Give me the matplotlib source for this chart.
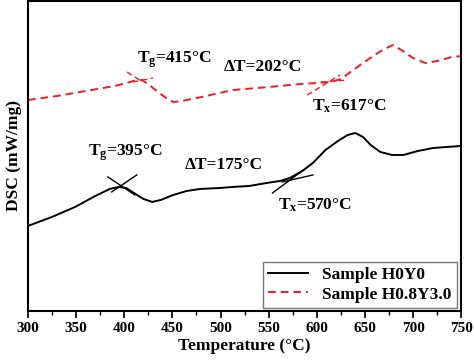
import matplotlib.pyplot as plt
from matplotlib.ticker import MultipleLocator, NullLocator

plt.rcParams['font.family'] = ['Liberation Serif', 'DejaVu Serif']
plt.rcParams['font.weight'] = 'bold'
plt.rcParams['mathtext.fontset'] = 'custom'
plt.rcParams['mathtext.rm'] = 'Liberation Serif:bold'
plt.rcParams['mathtext.it'] = 'Liberation Serif:bold'
plt.rcParams['mathtext.bf'] = 'Liberation Serif:bold'

# Sample H0Y0 (solid black)
temp_h0 = [300, 325, 349, 370, 385, 394, 402, 410, 420, 429, 438, 451, 465, 479, 500,
           513, 530, 548, 562, 572, 585, 596, 609, 622, 632, 640, 648, 656, 666, 678,
           690, 705, 721, 735, 750]
dsc_h0 = [85, 94, 104, 115, 122, 124, 123, 118, 112, 109, 111, 116, 120, 122, 123,
          124, 125, 128, 130, 133, 140, 148, 161, 170, 176, 178, 174, 166, 159, 156,
          156, 160, 163, 164, 165]

# Sample H0.8Y3.0 (dashed red)
temp_h08 = [300, 330, 360, 390, 406, 413, 418, 425, 435, 445, 451, 460, 480, 513, 550,
            583, 600, 614, 625, 635, 645, 660, 670, 679, 688, 700, 713, 725, 740, 750]
dsc_h08 = [211, 215, 220, 225, 229, 231, 231, 227, 219, 212, 209, 210, 214, 221, 224,
           227, 228, 229, 232, 239, 246, 256, 262, 266, 261, 253, 248, 250, 254, 255]

# tangent construction lines
tang_h0 = [([383, 411], [134, 116]), ([387, 413], [119, 136]),
           ([554, 596], [118, 148]), ([564, 596], [129, 136])]
tang_h08 = [([403, 416], [239, 231]), ([409, 430], [229, 233]),
            ([590, 624], [216, 236]), ([604, 632], [229, 231])]

labels = [(413, 251, r'T$_\mathregular{g}$=415°C'), (503, 244, 'ΔT=202°C'),
          (595, 205, r'T$_\mathregular{x}$=617°C'), (362, 158, r'T$_\mathregular{g}$=395°C'),
          (463, 146, 'ΔT=175°C'), (560, 106, r'T$_\mathregular{x}$=570°C')]

red = '#ee1c25'

fig = plt.figure(figsize=(4.74, 3.64), dpi=100)
ax = fig.add_axes([0.059, 0.146, 0.914, 0.851])

ax.plot(temp_h0, dsc_h0, color='black', lw=1.4, label='Sample H0Y0')
ax.plot(temp_h08, dsc_h08, color=red, lw=1.4, dashes=(4, 2.5), label='Sample H0.8Y3.0')
for xs, ys in tang_h0:
    ax.plot(xs, ys, color='black', lw=1.0)
for xs, ys in tang_h08:
    ax.plot(xs, ys, color=red, lw=1.0, dashes=(4, 2.5))

for x, y, s in labels:
    ax.text(x, y, s, fontsize=12.5, fontweight='bold', ha='left', va='center')

ax.set_xlim(300, 750)
ax.set_ylim(0, 310)
ax.xaxis.set_major_locator(MultipleLocator(50))
ax.xaxis.set_minor_locator(MultipleLocator(25))
ax.yaxis.set_major_locator(NullLocator())
ax.tick_params(axis='x', which='major', direction='out', length=5, width=1.2,
               labelsize=11, pad=3)
ax.tick_params(axis='x', which='minor', direction='out', length=3, width=1.0)
for sp in ax.spines.values():
    sp.set_linewidth(1.5)

ax.set_xlabel('Temperature (°C)', fontsize=12.5, fontweight='bold', labelpad=2)
ax.set_ylabel('DSC (mW/mg)', fontsize=12.5, fontweight='bold', labelpad=4)

leg = ax.legend(loc='lower right', fontsize=12.5, frameon=True, fancybox=False,
                handlelength=2.3, borderpad=0.3, labelspacing=0.2,
                bbox_to_anchor=(0.99, 0.01), borderaxespad=0)
leg.get_frame().set_edgecolor('#555555')
leg.get_frame().set_linewidth(1.0)

fig.savefig('out.png', dpi=100)
